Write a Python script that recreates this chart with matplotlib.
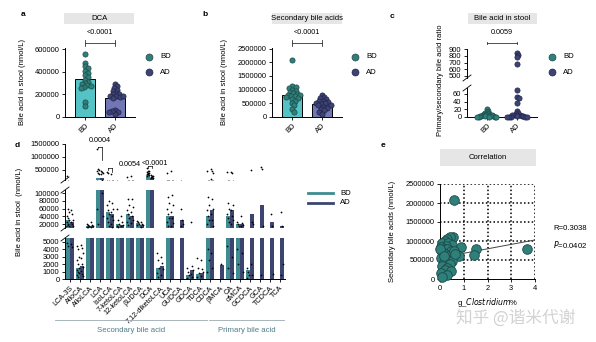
import numpy as np
import matplotlib
matplotlib.use('Agg')
import matplotlib.pyplot as plt
from matplotlib.lines import Line2D
from matplotlib.patches import Rectangle

plt.rcParams['font.family'] = ['Liberation Sans', 'DejaVu Sans']

# -----------------------------
# Data
# -----------------------------
groups = ['BD', 'AD']

# a: DCA
a_bd = [560000, 480000, 450000, 430000, 410000, 390000, 370000, 350000, 330000,
        310000, 300000, 290000, 280000, 275000, 265000, 260000, 130000, 100000]
a_ad = [290000, 270000, 255000, 240000, 230000, 215000, 200000, 200000, 190000,
        185000, 175000, 165000, 190000, 60000, 45000, 30000, 50000, 40000]

# b: secondary bile acids
b_bd = [2080000, 1120000, 1080000, 1050000, 1000000, 960000, 920000, 880000, 850000,
        820000, 800000, 780000, 750000, 720000, 700000, 650000, 600000, 520000,
        420000, 300000, 200000]
b_ad = [820000, 720000, 680000, 640000, 600000, 570000, 540000, 520000, 500000,
        480000, 450000, 420000, 380000, 340000, 300000, 250000, 200000, 120000]

# c: primary / secondary ratio
c_bd = [20, 15, 12, 10, 9, 8, 7, 6, 5, 5, 4, 3, 3, 2, 2, 1, 1, 1, 0.5, 0.5]
c_ad = [840, 810, 780, 680, 70, 52, 50, 35, 15, 10, 8, 6, 5, 4, 3, 2, 2, 1, 1, 0.5, 0.5, 0.3]

# d: individual bile acids
d_labels = ['LCA-3S', 'AlloCA', 'AlloLCA', 'LCA', 'IsoLCA', '7-ketoLCA', '12-ketoLCA',
            'βUDCA', 'DCA', '7,12-diketoLCA', 'UCA', 'GUDCA', 'GDCA', 'TDCA',
            'CDCA', 'βMCA', 'CA', 'αMCA', 'GCDCA', 'GCA', 'TCDCA', 'TCA']
n_secondary = 14
d_bd_mean = [30000, 1500, 15000, 200000, 50000, 20000, 45000, 22000, 326000, 1500,
             40000, 0, 600, 700, 40000, 0, 40000, 20000, 1200, 0, 0, 0]
d_ad_mean = [25000, 1800, 16000, 180000, 45000, 18000, 40000, 18000, 176000, 1800,
             40000, 30000, 1200, 800, 55000, 1900, 55000, 20000, 45000, 70000, 25000, 15000]
d_bd_pts = [
    [250000, 60000, 50000, 40000, 35000, 30000, 25000, 20000, 15000, 4800, 4500],
    [4500, 4000, 3000, 2500, 2000, 1500, 1200, 1000, 800, 500, 300],
    [20000, 17000, 15000, 13000, 12000],
    [1300000, 550000, 500000, 450000, 400000, 350000, 60000, 20000],
    [420000, 380000, 80000, 70000, 55000, 45000, 35000, 25000, 15000],
    [60000, 30000, 20000, 15000, 12000],
    [230000, 85000, 70000, 55000, 45000, 35000, 25000, 18000],
    [28000, 24000, 20000, 17000],
    [560000, 480000, 450000, 420000, 400000, 380000, 360000, 340000, 300000, 280000],
    [3500, 2500, 1500, 800, 300],
    [400000, 90000, 75000, 60000, 45000, 35000, 25000, 15000],
    [],
    [1500, 900, 500, 200],
    [2800, 1500, 800, 300],
    [480000, 90000, 70000, 55000, 40000, 30000, 20000, 4000, 2500, 1000],
    [],
    [420000, 75000, 60000, 45000, 35000, 25000, 4500, 1500],
    [25000, 20000, 15000, 4000, 2000],
    [1500, 1000, 500, 200],
    [],
    [],
    [],
]
d_ad_pts = [
    [55000, 45000, 30000, 25000, 20000, 15000, 4700, 4300],
    [4600, 4200, 3500, 2800, 2000, 1600, 1100, 700, 400],
    [25000, 18000, 15000, 13000],
    [480000, 420000, 380000, 330000, 100000, 40000],
    [350000, 75000, 60000, 50000, 40000, 30000, 20000, 12000],
    [40000, 25000, 18000, 14000],
    [260000, 85000, 65000, 50000, 40000, 30000, 22000],
    [26000, 21000, 17000, 13000],
    [290000, 270000, 250000, 240000, 230000, 200000, 180000],
    [3000, 2200, 1400, 600],
    [450000, 95000, 70000, 50000, 35000, 22000, 14000],
    [60000, 30000, 20000, 15000],
    [25000, 1800, 1200, 700, 300],
    [2500, 1400, 900, 400],
    [520000, 450000, 400000, 150000, 85000, 60000, 45000, 30000, 15000, 3500, 1500],
    [2000],
    [440000, 380000, 70000, 55000, 40000, 30000, 20000, 3000, 800],
    [40000, 22000, 18000, 14000, 3500, 1000],
    [500000, 25000, 20000, 2000, 500],
    [600000, 550000, 15000, 500],
    [45000, 15000, 700],
    [50000, 14000, 2000, 500],
]

# e: correlation
e_x = [0.6, 0.55, 0.4, 0.3, 0.2, 0.1, 0.35, 0.5, 0.25, 0.05, 0.15, 0.3, 0.45, 0.9,
       1.5, 3.65, 1.45, 0.8, 0.1, 0.2, 0.35, 0.05, 0.25, 0.5, 0.15, 0.4, 0.1, 0.3,
       0.2, 0.45, 0.05, 0.3, 0.1, 0.6, 0.65, 0.02, 0.15]
e_y = [2080000, 1100000, 1100000, 1050000, 1000000, 950000, 950000, 900000, 880000,
       850000, 800000, 780000, 750000, 850000, 800000, 800000, 640000, 600000, 700000,
       650000, 600000, 550000, 520000, 480000, 450000, 400000, 350000, 300000, 250000,
       200000, 150000, 100000, 50000, 750000, 650000, 800000, 600000]
e_slope = 117000
e_intercept = 560000
e_r = 'R=0.3038'
e_p = '0.0402'

# -----------------------------
# Colours
# -----------------------------
BD_FILL, AD_FILL = '#55c3c6', '#7176b5'
BD_DOT, AD_DOT = '#2f7f7b', '#3d4373'
BD_EDGE, AD_EDGE = '#1c4a48', '#20244a'
BD_D, AD_D = '#3e8c90', '#3b4570'
TICK_FS = 5.4

W, H = 596, 342
fig = plt.figure(figsize=(W / 100, H / 100), dpi=100)


def fx(x):
    return x / W


def fy(y):
    return 1 - y / H


def px_axes(x0, y0, x1, y1):
    return fig.add_axes([x0 / W, 1 - y1 / H, (x1 - x0) / W, (y1 - y0) / H])


def style(ax, bottom=True):
    for s in ['top', 'right']:
        ax.spines[s].set_visible(False)
    ax.spines['left'].set_linewidth(0.7)
    ax.spines['bottom'].set_linewidth(0.7)
    if not bottom:
        ax.spines['bottom'].set_visible(False)
        ax.tick_params(axis='x', bottom=False, labelbottom=False)
    ax.tick_params(labelsize=TICK_FS, length=2.5, width=0.6, pad=1.5)


def title_box(x0, y0, x1, y1, text):
    fig.add_artist(Rectangle((fx(x0), fy(y1)), (x1 - x0) / W, (y1 - y0) / H,
                             transform=fig.transFigure, facecolor='#e6e6e6', edgecolor='none'))
    fig.text(fx((x0 + x1) / 2), fy((y0 + y1) / 2), text, ha='center', va='center', fontsize=5.6)


def bracket(ax, x0, x1, y, text, ty):
    tr = ax.get_xaxis_transform()
    ax.plot([x0, x1], [y, y], color='#333333', lw=0.6, transform=tr, clip_on=False)
    for xx in (x0, x1):
        ax.plot([xx, xx], [y - 0.04, y + 0.04], color='#333333', lw=0.6, transform=tr, clip_on=False)
    ax.text((x0 + x1) / 2, ty, text, transform=tr, ha='center', va='center', fontsize=5.2)


def dot_legend(x, ys):
    for y, c, e, lab in zip(ys, [BD_DOT, AD_DOT], [BD_EDGE, AD_EDGE], groups):
        fig.add_artist(Line2D([fx(x)], [fy(y)], marker='o', ms=5, color=c, mec=e, mew=0.5,
                              transform=fig.transFigure))
        fig.text(fx(x + 11), fy(y), lab, va='center', fontsize=5.6)


def slash(x, y):
    fig.add_artist(Line2D([fx(x - 4), fx(x + 4)], [fy(y + 3), fy(y - 3)], color='black',
                          lw=0.6, transform=fig.transFigure))


def swarm(ypx, d=3.2):
    # simple beeswarm: x offsets in pixels
    placed, offs = [], []
    cands = [0.0] + [s * k * 0.5 for k in range(1, 60) for s in (1, -1)]
    for y in ypx:
        for c in cands:
            if all((c - px) ** 2 + (y - py) ** 2 >= d * d for px, py in placed):
                break
        placed.append((c, y))
        offs.append(c)
    return np.array(offs)


def spread(ypx, ppx, limit=0.3):
    offs = swarm(ypx) / ppx
    m = np.abs(offs).max()
    if m > limit:
        offs = offs * limit / m
    return offs


def xticks_bd_ad(ax):
    ax.set_xticks([0, 1])
    ax.set_xticklabels(groups, rotation=45, ha='right', rotation_mode='anchor')


# -----------------------------
# Panel a / b: bar + swarm
# -----------------------------
def bar_swarm(box, ymax, yticks, bd, ad, title, tbox, leg_x, ylabel_x):
    x0, y0, x1, y1 = box
    ax = px_axes(*box)
    style(ax)
    ppx = (x1 - x0) / 2.34
    ppy = (y1 - y0) / ymax
    ax.bar([0, 1], [np.mean(bd), np.mean(ad)], width=0.65, color=[BD_FILL, AD_FILL],
           edgecolor='black', linewidth=0.7, zorder=2)
    for i, (vals, c, e) in enumerate([(bd, BD_DOT, BD_EDGE), (ad, AD_DOT, AD_EDGE)]):
        vals = np.array(vals)
        offs = spread(vals * ppy, ppx)
        ax.scatter(i + offs, vals, s=14, c=c, edgecolors=e, linewidths=0.5, zorder=3, clip_on=False)
    ax.set_xlim(-0.67, 1.67)
    ax.set_ylim(0, ymax)
    ax.set_yticks(yticks)
    ax.set_yticklabels([f'{int(t)}' for t in yticks])
    xticks_bd_ad(ax)
    frac = (y1 - y0)
    bracket(ax, 0, 1, 1 + (y0 - 43) / frac, '<0.0001', 1 + (y0 - 33) / frac)
    title_box(*tbox, title)
    dot_legend(leg_x, [57, 72])
    fig.text(fx(ylabel_x), fy(82), 'Bile acid in stool (nmol/L)', rotation=90, ha='center',
             va='center', fontsize=5.5)
    return ax


bar_swarm((65, 48, 135, 117), 610000, [0, 200000, 400000, 600000], a_bd, a_ad,
          'DCA', (64, 13, 134, 24), 149, 23)
bar_swarm((272, 48, 342, 117), 2520000, [0, 500000, 1000000, 1500000, 2000000, 2500000],
          b_bd, b_ad, 'Secondary bile acids', (272, 13, 342, 24), 355, 225)

# -----------------------------
# Panel c: broken axis ratio
# -----------------------------
ax_cl = px_axes(467, 88, 537, 117)
ax_cu = px_axes(467, 49, 537, 78)
style(ax_cl)
style(ax_cu, bottom=False)
lo_max, up_min, up_max = 75, 470, 905


def c_px(v):
    v = np.asarray(v, dtype=float)
    return np.where(v < lo_max, v * 29 / lo_max, 39 + (v - up_min) * 29 / (up_max - up_min))


for i, (vals, c, e) in enumerate([(c_bd, BD_DOT, BD_EDGE), (c_ad, AD_DOT, AD_EDGE)]):
    vals = np.array(vals)
    offs = spread(c_px(vals), 30.0, limit=0.33)
    lo = vals < lo_max
    ax_cl.scatter(i + offs[lo], vals[lo], s=14, c=c, edgecolors=e, linewidths=0.5, zorder=3, clip_on=False)
    ax_cu.scatter(i + offs[~lo], vals[~lo], s=14, c=c, edgecolors=e, linewidths=0.5, zorder=3, clip_on=False)
for ax in (ax_cl, ax_cu):
    ax.set_xlim(-0.67, 1.67)
ax_cl.set_ylim(0, lo_max)
ax_cl.set_yticks([0, 20, 40, 60])
ax_cu.set_ylim(up_min, up_max)
ax_cu.set_yticks([500, 600, 700, 800, 900])
xticks_bd_ad(ax_cl)
bracket(ax_cu, 0, 1, (78 - 43) / 29, '0.0059', (78 - 33) / 29)
slash(467, 78)
slash(467, 88)
title_box(468, 13, 537, 24, 'Bile acid in stool')
dot_legend(552, [57, 72])
fig.text(fx(440), fy(80), 'Primary/secondary bile acid ratio', rotation=90, ha='center',
         va='center', fontsize=5.5)

# -----------------------------
# Panel d: three-segment bar chart
# -----------------------------
xd = np.arange(len(d_labels))
ax_dt = px_axes(65, 144, 285, 180)
ax_dm = px_axes(65, 190, 285, 228)
ax_db = px_axes(65, 238, 285, 279)
style(ax_dt, bottom=False)
style(ax_dm, bottom=False)
style(ax_db)
ax_dt.set_ylim(115000, 1500000)
ax_dt.set_yticks([500000, 1000000, 1500000])
ax_dm.set_ylim(9700, 108000)
ax_dm.set_yticks([20000, 40000, 60000, 80000, 100000])
ax_db.set_ylim(0, 5540)
ax_db.set_yticks([0, 1000, 2000, 3000, 4000, 5000])
for ax in (ax_dt, ax_dm, ax_db):
    ax.set_xlim(-0.5, len(d_labels) - 0.5)
    ax.bar(xd - 0.19, d_bd_mean, 0.34, color=BD_D, zorder=1)
    ax.bar(xd + 0.19, d_ad_mean, 0.34, color=AD_D, zorder=1)
    for i in xd:
        for pts, off in ((d_bd_pts[i], -0.19), (d_ad_pts[i], 0.19)):
            if not pts:
                continue
            jit = ((np.arange(len(pts)) % 3) - 1) * 0.07
            ax.scatter(i + off + jit, pts, s=1.6, c='black', zorder=3, linewidths=0)
    ax.yaxis.set_major_formatter(plt.FuncFormatter(lambda v, p: f'{int(v)}'))
ax_db.set_xticks(xd)
ax_db.set_xticklabels(d_labels, rotation=45, ha='right', rotation_mode='anchor', fontsize=5.2)
for y in (180, 190, 228, 238):
    slash(65, y)

# significance marks in panel d
for i, top, low, txt, tx, ty in [(3, 1400000, 900000, '0.0004', 3.0, 1640000),
                                 (4, 560000, 420000, '0.0054', 6.0, 700000),
                                 (8, 640000, 560000, '<0.0001', 8.5, 750000)]:
    ax_dt.plot([i - 0.19, i + 0.19], [top, top], color='black', lw=0.5, clip_on=False)
    ax_dt.plot([i - 0.19, i - 0.19], [top, top - 60000], color='black', lw=0.5, clip_on=False)
    ax_dt.plot([i + 0.19, i + 0.19], [top, low], color='black', lw=0.5, clip_on=False)
    ax_dt.text(tx, ty, txt, ha='center', va='center', fontsize=5.2, clip_on=False)

fig.text(fx(20), fy(212), 'Bile acid in stool  (nmol/L)', rotation=90, ha='center',
         va='center', fontsize=5.5)

# group lines
xt = ax_db.get_xaxis_transform()
ax_db.plot([-1.5, n_secondary - 0.3], [-1.0, -1.0], color='#9aaab0', lw=0.6,
           transform=xt, clip_on=False)
ax_db.plot([n_secondary - 0.1, len(d_labels) - 0.6], [-1.0, -1.0], color='#9aaab0', lw=0.6,
           transform=xt, clip_on=False)
ax_db.text((n_secondary - 1.8) / 2, -1.25, 'Secondary bile acid', ha='center', va='center',
           fontsize=5.6, color='#4d7d88', transform=xt)
ax_db.text((n_secondary + len(d_labels) - 0.7) / 2, -1.25, 'Primary bile acid', ha='center',
           va='center', fontsize=5.6, color='#4d7d88', transform=xt)

# d legend
for y, c, lab in [(193, BD_D, 'BD'), (203, AD_D, 'AD')]:
    fig.add_artist(Line2D([fx(308), fx(333)], [fy(y), fy(y)], color=c, lw=2,
                          transform=fig.transFigure))
    fig.text(fx(340), fy(y), lab, va='center', fontsize=5.6)

# -----------------------------
# Panel e: correlation
# -----------------------------
ax_e = px_axes(440, 184, 535, 279)
style(ax_e)
ax_e.set_xlim(0, 4)
ax_e.set_ylim(0, 2500000)
ax_e.set_xticks([0, 1, 2, 3, 4])
ax_e.set_yticks([0, 500000, 1000000, 1500000, 2000000, 2500000])
ax_e.yaxis.set_major_formatter(plt.FuncFormatter(lambda v, p: f'{int(v)}'))
for gx in [1, 2, 3, 4]:
    ax_e.axvline(gx, color='black', lw=1.1, ls=(0, (1, 1.5)), zorder=0)
for gy in [500000, 1000000, 1500000, 2000000, 2500000]:
    ax_e.axhline(gy, color='black', lw=1.1, ls=(0, (1, 1.5)), zorder=0)
lx = np.array([0, 4])
ax_e.plot(lx, e_intercept + e_slope * lx, color='#444444', lw=0.7, zorder=1)
ax_e.scatter(e_x, e_y, s=48, c=BD_DOT, edgecolors=BD_EDGE, linewidths=0.6, zorder=3, clip_on=False)
ax_e.set_xlabel(r'g_$\it{Clostridium}$%', fontsize=5.6, labelpad=3)
fig.text(fx(392), fy(231), 'Secondary bile acids (nmol/L)', rotation=90, ha='center',
         va='center', fontsize=5.5)
title_box(440, 149, 536, 166, 'Correlation')
fig.text(fx(553), fy(229), e_r, fontsize=5.6, va='center')
fig.text(fx(553), fy(244), r'$\it{P}$=' + e_p, fontsize=5.6, va='center')

# panel letters
for lab, x, y in [('a', 23, 15), ('b', 205, 15), ('c', 392, 16), ('d', 17, 145), ('e', 383, 145)]:
    fig.text(fx(x), fy(y), lab, fontsize=6, fontweight='bold', ha='center', va='center')

fig.text(fx(516), fy(318), '知乎 @谐米代谢', fontsize=12, color='#d2d2d2', ha='center',
         va='center', family=['Noto Sans CJK SC', 'DejaVu Sans'])

fig.savefig('out.png', dpi=100)
